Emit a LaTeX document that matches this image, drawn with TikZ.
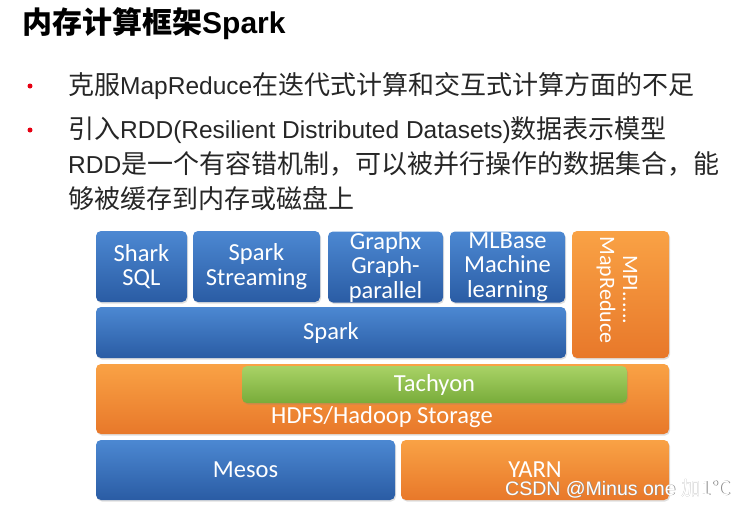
\documentclass[tikz,border=0pt]{standalone}
\usepackage{fontspec}
\setmainfont{Liberation Sans}
\newfontfamily\cjk{Noto Sans CJK SC}
\newfontfamily\carl{Carlito}
\newcommand\cj[1]{{\cjk\fontsize{26}{30}\selectfont #1}}
\usetikzlibrary{shadows}
\definecolor{bluetop}{HTML}{4C88D2}
\definecolor{bluebot}{HTML}{2A5CA4}
\definecolor{orangetop}{HTML}{F9A245}
\definecolor{orangebot}{HTML}{E8782A}
\definecolor{greentop}{HTML}{A9D266}
\definecolor{greenbot}{HTML}{78AC3A}
\definecolor{bulletred}{HTML}{E60012}
\tikzset{
  boxfont/.style={text=white, font=\carl\fontsize{24.5}{24.5}\selectfont, align=center},
  layer/.style={rounded corners=5pt, inner sep=0pt, boxfont,
    drop shadow={shadow xshift=1pt, shadow yshift=-1.5pt, opacity=0.25}},
  bluebox/.style={layer, top color=bluetop, bottom color=bluebot},
  orangebox/.style={layer, top color=orangetop, bottom color=orangebot},
  greenbox/.style={layer, top color=greentop, bottom color=greenbot},
  bodytext/.style={anchor=base west, inner sep=0pt, font=\fontsize{24.5}{30}\selectfont, text=black!85},
  dot/.style={circle, fill=bulletred, inner sep=0pt, minimum size=5pt},
}
\begin{document}
\begin{tikzpicture}[x=1pt, y=-1pt]
\useasboundingbox[fill=white] (0,0) rectangle (742,506);
% title
\node[anchor=base west, inner sep=0pt, font=\fontsize{30}{34}\selectfont\bfseries] (title) at (22,33) {{\cjk\bfseries 内存计算框架}Spark};
% bullets
\node[dot] (b1) at (30,86) {};
\node[dot] (b2) at (30,130) {};
\node[bodytext] (l1) at (68,94) {\cj{克服}MapReduce\cj{在迭代式计算和交互式计算方面的不足}};
\node[bodytext] (l2) at (68,138) {\cj{引入}RDD(Resilient Distributed Datasets)\cj{数据表示模型}};
\node[bodytext] (l3) at (68,173) {RDD\cj{是一个有容错机制，可以被并行操作的数据集合，能}};
\node[bodytext] (l4) at (68,208) {\cj{够被缓存到内存或磁盘上}};
% stack
\node[bluebox, minimum width=91pt, minimum height=71pt] (shark) at (141.5,266.5) {Shark\\SQL};
\node[bluebox, minimum width=127pt, minimum height=71pt] (stream) at (256.5,266.5) {Spark\\Streaming};
\node[bluebox, minimum width=115pt, minimum height=71pt] (graphx) at (385.5,267) {Graphx\\Graph-\\parallel};
\node[bluebox, minimum width=115pt, minimum height=71pt] (mlbase) at (507.5,267) {MLBase\\Machine\\learning};
\node[orangebox, minimum width=97pt, minimum height=127pt] (mpi) at (620.5,294.5) {};
\node[rotate=-90, boxfont, font=\carl\fontsize{22}{23}\selectfont, inner sep=0pt] (mpitext) at (617,290) {MPI......\\MapReduce};
\node[bluebox, minimum width=470pt, minimum height=51pt] (spark) at (331,332.5) {Spark};
\node[orangebox, minimum width=573pt, minimum height=70pt] (hdfs) at (382.5,399) {};
\node[greenbox, minimum width=385pt, minimum height=37pt] (tachyon) at (434.5,384.5) {Tachyon};
\node[boxfont, inner sep=0pt] (hdfstext) at (382,417) {HDFS/Hadoop Storage};
\node[bluebox, minimum width=299pt, minimum height=60pt] (mesos) at (245.5,470) {Mesos};
\node[orangebox, minimum width=268pt, minimum height=60pt] (yarn) at (535,470) {YARN};
% watermark
\node[anchor=base west, inner sep=0pt, text=black!45, font=\fontsize{19.5}{22}\selectfont] (wm1) at (505.8,495.8) {CSDN @Minus one {\cjk 加1℃}};
\node[anchor=base west, inner sep=0pt, text=white, font=\fontsize{19.5}{22}\selectfont] (wm) at (505,495) {CSDN @Minus one {\cjk 加1℃}};
\end{tikzpicture}
\end{document}
